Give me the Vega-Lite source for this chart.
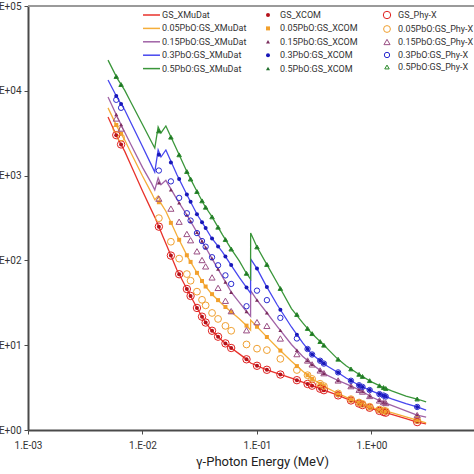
{
  "$schema": "https://vega.github.io/schema/vega-lite/v6.json",
  "width": 446,
  "height": 424,
  "autosize": {"type": "none"},
  "padding": {"left": 28, "top": 6, "right": 0, "bottom": 44},
  "background": "white",
  "config": {
    "view": {"stroke": null},
    "font": "Roboto",
    "axis": {
      "grid": false,
      "domainColor": "#4a4a4a",
      "domainWidth": 2,
      "tickColor": "#4a4a4a",
      "tickSize": 4,
      "tickWidth": 1,
      "labelFont": "Roboto",
      "labelFontSize": 10,
      "labelColor": "#333333",
      "titleFont": "Roboto",
      "titleColor": "#222222",
      "titleFontWeight": "normal"
    },
    "legend": {"labelFont": "Roboto", "labelFontSize": 9, "labelColor": "#333333", "padding": 0}
  },
  "datasets": {
    "xmudat": [
      {"E":0.005,"mu":4910,"s":"GS_XMuDat"},{"E":0.006,"mu":2850,"s":"GS_XMuDat"},{"E":0.007,"mu":1930,"s":"GS_XMuDat"},{"E":0.008,"mu":1290,"s":"GS_XMuDat"},{"E":0.01,"mu":660,"s":"GS_XMuDat"},{"E":0.012,"mu":389,"s":"GS_XMuDat"},{"E":0.013,"mu":310,"s":"GS_XMuDat"},{"E":0.0152,"mu":186,"s":"GS_XMuDat"},{"E":0.0159,"mu":161,"s":"GS_XMuDat"},{"E":0.02,"mu":77,"s":"GS_XMuDat"},{"E":0.025,"mu":43.2,"s":"GS_XMuDat"},{"E":0.03,"mu":27.3,"s":"GS_XMuDat"},{"E":0.035,"mu":19.1,"s":"GS_XMuDat"},{"E":0.04,"mu":15.0,"s":"GS_XMuDat"},{"E":0.05,"mu":11.2,"s":"GS_XMuDat"},{"E":0.06,"mu":9.2,"s":"GS_XMuDat"},{"E":0.07,"mu":7.9,"s":"GS_XMuDat"},{"E":0.08,"mu":6.9,"s":"GS_XMuDat"},{"E":0.088,"mu":6.17,"s":"GS_XMuDat"},{"E":0.1,"mu":5.72,"s":"GS_XMuDat"},{"E":0.12,"mu":5.15,"s":"GS_XMuDat"},{"E":0.15,"mu":4.65,"s":"GS_XMuDat"},{"E":0.2,"mu":4.08,"s":"GS_XMuDat"},{"E":0.25,"mu":3.67,"s":"GS_XMuDat"},{"E":0.3,"mu":3.35,"s":"GS_XMuDat"},{"E":0.4,"mu":2.89,"s":"GS_XMuDat"},{"E":0.5,"mu":2.59,"s":"GS_XMuDat"},{"E":0.6,"mu":2.35,"s":"GS_XMuDat"},{"E":0.8,"mu":2.02,"s":"GS_XMuDat"},{"E":1,"mu":1.79,"s":"GS_XMuDat"},{"E":1.25,"mu":1.64,"s":"GS_XMuDat"},{"E":1.5,"mu":1.53,"s":"GS_XMuDat"},{"E":2,"mu":1.36,"s":"GS_XMuDat"},{"E":2.5,"mu":1.24,"s":"GS_XMuDat"},{"E":3,"mu":1.18,"s":"GS_XMuDat"},

      {"E":0.005,"mu":6285,"s":"0.05PbO:GS_XMuDat"},{"E":0.006,"mu":3760,"s":"0.05PbO:GS_XMuDat"},{"E":0.007,"mu":2625,"s":"0.05PbO:GS_XMuDat"},{"E":0.008,"mu":1806,"s":"0.05PbO:GS_XMuDat"},{"E":0.01,"mu":990,"s":"0.05PbO:GS_XMuDat"},{"E":0.012,"mu":622,"s":"0.05PbO:GS_XMuDat"},{"E":0.0128,"mu":520,"s":"0.05PbO:GS_XMuDat"},{"E":0.0137,"mu":575,"s":"0.05PbO:GS_XMuDat"},{"E":0.0145,"mu":470,"s":"0.05PbO:GS_XMuDat"},{"E":0.016,"mu":380,"s":"0.05PbO:GS_XMuDat"},{"E":0.02,"mu":197,"s":"0.05PbO:GS_XMuDat"},{"E":0.025,"mu":108,"s":"0.05PbO:GS_XMuDat"},{"E":0.03,"mu":71,"s":"0.05PbO:GS_XMuDat"},{"E":0.035,"mu":50.6,"s":"0.05PbO:GS_XMuDat"},{"E":0.04,"mu":40.5,"s":"0.05PbO:GS_XMuDat"},{"E":0.05,"mu":30.2,"s":"0.05PbO:GS_XMuDat"},{"E":0.06,"mu":24.4,"s":"0.05PbO:GS_XMuDat"},{"E":0.07,"mu":20.5,"s":"0.05PbO:GS_XMuDat"},{"E":0.08,"mu":17.3,"s":"0.05PbO:GS_XMuDat"},{"E":0.0879,"mu":15.1,"s":"0.05PbO:GS_XMuDat"},{"E":0.088,"mu":19.8,"s":"0.05PbO:GS_XMuDat"},{"E":0.1,"mu":16.5,"s":"0.05PbO:GS_XMuDat"},{"E":0.12,"mu":12.8,"s":"0.05PbO:GS_XMuDat"},{"E":0.15,"mu":9.4,"s":"0.05PbO:GS_XMuDat"},{"E":0.2,"mu":6.46,"s":"0.05PbO:GS_XMuDat"},{"E":0.25,"mu":4.95,"s":"0.05PbO:GS_XMuDat"},{"E":0.3,"mu":4.05,"s":"0.05PbO:GS_XMuDat"},{"E":0.4,"mu":3.18,"s":"0.05PbO:GS_XMuDat"},{"E":0.5,"mu":2.73,"s":"0.05PbO:GS_XMuDat"},{"E":0.6,"mu":2.44,"s":"0.05PbO:GS_XMuDat"},{"E":0.8,"mu":2.08,"s":"0.05PbO:GS_XMuDat"},{"E":1,"mu":1.84,"s":"0.05PbO:GS_XMuDat"},{"E":1.25,"mu":1.71,"s":"0.05PbO:GS_XMuDat"},{"E":1.5,"mu":1.6,"s":"0.05PbO:GS_XMuDat"},{"E":2,"mu":1.43,"s":"0.05PbO:GS_XMuDat"},{"E":2.5,"mu":1.31,"s":"0.05PbO:GS_XMuDat"},{"E":3,"mu":1.21,"s":"0.05PbO:GS_XMuDat"},

      {"E":0.005,"mu":8450,"s":"0.15PbO:GS_XMuDat"},{"E":0.006,"mu":4990,"s":"0.15PbO:GS_XMuDat"},{"E":0.007,"mu":3240,"s":"0.15PbO:GS_XMuDat"},{"E":0.008,"mu":2260,"s":"0.15PbO:GS_XMuDat"},{"E":0.01,"mu":1250,"s":"0.15PbO:GS_XMuDat"},{"E":0.012,"mu":810,"s":"0.15PbO:GS_XMuDat"},{"E":0.0128,"mu":676,"s":"0.15PbO:GS_XMuDat"},{"E":0.0137,"mu":937,"s":"0.15PbO:GS_XMuDat"},{"E":0.0145,"mu":780,"s":"0.15PbO:GS_XMuDat"},{"E":0.016,"mu":880,"s":"0.15PbO:GS_XMuDat"},{"E":0.02,"mu":525,"s":"0.15PbO:GS_XMuDat"},{"E":0.025,"mu":325,"s":"0.15PbO:GS_XMuDat"},{"E":0.03,"mu":213,"s":"0.15PbO:GS_XMuDat"},{"E":0.035,"mu":148,"s":"0.15PbO:GS_XMuDat"},{"E":0.04,"mu":108,"s":"0.15PbO:GS_XMuDat"},{"E":0.05,"mu":64,"s":"0.15PbO:GS_XMuDat"},{"E":0.06,"mu":41.6,"s":"0.15PbO:GS_XMuDat"},{"E":0.07,"mu":32,"s":"0.15PbO:GS_XMuDat"},{"E":0.08,"mu":25.5,"s":"0.15PbO:GS_XMuDat"},{"E":0.0879,"mu":22,"s":"0.15PbO:GS_XMuDat"},{"E":0.088,"mu":44,"s":"0.15PbO:GS_XMuDat"},{"E":0.1,"mu":34,"s":"0.15PbO:GS_XMuDat"},{"E":0.12,"mu":24.8,"s":"0.15PbO:GS_XMuDat"},{"E":0.15,"mu":16.7,"s":"0.15PbO:GS_XMuDat"},{"E":0.2,"mu":10.2,"s":"0.15PbO:GS_XMuDat"},{"E":0.25,"mu":7.4,"s":"0.15PbO:GS_XMuDat"},{"E":0.3,"mu":6.0,"s":"0.15PbO:GS_XMuDat"},{"E":0.4,"mu":4.5,"s":"0.15PbO:GS_XMuDat"},{"E":0.5,"mu":3.89,"s":"0.15PbO:GS_XMuDat"},{"E":0.6,"mu":3.49,"s":"0.15PbO:GS_XMuDat"},{"E":0.8,"mu":2.94,"s":"0.15PbO:GS_XMuDat"},{"E":1,"mu":2.45,"s":"0.15PbO:GS_XMuDat"},{"E":1.25,"mu":2.15,"s":"0.15PbO:GS_XMuDat"},{"E":1.5,"mu":1.95,"s":"0.15PbO:GS_XMuDat"},{"E":2,"mu":1.68,"s":"0.15PbO:GS_XMuDat"},{"E":2.5,"mu":1.5,"s":"0.15PbO:GS_XMuDat"},{"E":3,"mu":1.42,"s":"0.15PbO:GS_XMuDat"},

      {"E":0.005,"mu":13400,"s":"0.3PbO:GS_XMuDat"},{"E":0.006,"mu":8330,"s":"0.3PbO:GS_XMuDat"},{"E":0.007,"mu":5940,"s":"0.3PbO:GS_XMuDat"},{"E":0.008,"mu":4090,"s":"0.3PbO:GS_XMuDat"},{"E":0.01,"mu":2200,"s":"0.3PbO:GS_XMuDat"},{"E":0.012,"mu":1320,"s":"0.3PbO:GS_XMuDat"},{"E":0.0128,"mu":1103,"s":"0.3PbO:GS_XMuDat"},{"E":0.0137,"mu":2004,"s":"0.3PbO:GS_XMuDat"},{"E":0.0145,"mu":1657,"s":"0.3PbO:GS_XMuDat"},{"E":0.016,"mu":2004,"s":"0.3PbO:GS_XMuDat"},{"E":0.02,"mu":1025,"s":"0.3PbO:GS_XMuDat"},{"E":0.025,"mu":560,"s":"0.3PbO:GS_XMuDat"},{"E":0.03,"mu":348,"s":"0.3PbO:GS_XMuDat"},{"E":0.035,"mu":250,"s":"0.3PbO:GS_XMuDat"},{"E":0.04,"mu":185,"s":"0.3PbO:GS_XMuDat"},{"E":0.05,"mu":125,"s":"0.3PbO:GS_XMuDat"},{"E":0.06,"mu":86,"s":"0.3PbO:GS_XMuDat"},{"E":0.07,"mu":63,"s":"0.3PbO:GS_XMuDat"},{"E":0.08,"mu":49,"s":"0.3PbO:GS_XMuDat"},{"E":0.0879,"mu":41,"s":"0.3PbO:GS_XMuDat"},{"E":0.088,"mu":104,"s":"0.3PbO:GS_XMuDat"},{"E":0.1,"mu":80,"s":"0.3PbO:GS_XMuDat"},{"E":0.12,"mu":50.5,"s":"0.3PbO:GS_XMuDat"},{"E":0.15,"mu":30,"s":"0.3PbO:GS_XMuDat"},{"E":0.2,"mu":16.4,"s":"0.3PbO:GS_XMuDat"},{"E":0.25,"mu":10.7,"s":"0.3PbO:GS_XMuDat"},{"E":0.3,"mu":7.85,"s":"0.3PbO:GS_XMuDat"},{"E":0.4,"mu":5.8,"s":"0.3PbO:GS_XMuDat"},{"E":0.5,"mu":4.83,"s":"0.3PbO:GS_XMuDat"},{"E":0.6,"mu":4.1,"s":"0.3PbO:GS_XMuDat"},{"E":0.8,"mu":3.3,"s":"0.3PbO:GS_XMuDat"},{"E":1,"mu":2.9,"s":"0.3PbO:GS_XMuDat"},{"E":1.25,"mu":2.56,"s":"0.3PbO:GS_XMuDat"},{"E":1.5,"mu":2.33,"s":"0.3PbO:GS_XMuDat"},{"E":2,"mu":2.05,"s":"0.3PbO:GS_XMuDat"},{"E":2.5,"mu":1.87,"s":"0.3PbO:GS_XMuDat"},{"E":3,"mu":1.72,"s":"0.3PbO:GS_XMuDat"},

      {"E":0.005,"mu":23000,"s":"0.5PbO:GS_XMuDat"},{"E":0.006,"mu":14100,"s":"0.5PbO:GS_XMuDat"},{"E":0.007,"mu":10100,"s":"0.5PbO:GS_XMuDat"},{"E":0.008,"mu":7140,"s":"0.5PbO:GS_XMuDat"},{"E":0.01,"mu":4000,"s":"0.5PbO:GS_XMuDat"},{"E":0.012,"mu":2490,"s":"0.5PbO:GS_XMuDat"},{"E":0.0128,"mu":2115,"s":"0.5PbO:GS_XMuDat"},{"E":0.0137,"mu":3740,"s":"0.5PbO:GS_XMuDat"},{"E":0.0145,"mu":3180,"s":"0.5PbO:GS_XMuDat"},{"E":0.016,"mu":3850,"s":"0.5PbO:GS_XMuDat"},{"E":0.02,"mu":2000,"s":"0.5PbO:GS_XMuDat"},{"E":0.025,"mu":1040,"s":"0.5PbO:GS_XMuDat"},{"E":0.03,"mu":645,"s":"0.5PbO:GS_XMuDat"},{"E":0.035,"mu":438,"s":"0.5PbO:GS_XMuDat"},{"E":0.04,"mu":335,"s":"0.5PbO:GS_XMuDat"},{"E":0.05,"mu":200,"s":"0.5PbO:GS_XMuDat"},{"E":0.06,"mu":134,"s":"0.5PbO:GS_XMuDat"},{"E":0.07,"mu":98.5,"s":"0.5PbO:GS_XMuDat"},{"E":0.08,"mu":72,"s":"0.5PbO:GS_XMuDat"},{"E":0.0879,"mu":60,"s":"0.5PbO:GS_XMuDat"},{"E":0.088,"mu":210,"s":"0.5PbO:GS_XMuDat"},{"E":0.1,"mu":144,"s":"0.5PbO:GS_XMuDat"},{"E":0.12,"mu":93,"s":"0.5PbO:GS_XMuDat"},{"E":0.15,"mu":54.5,"s":"0.5PbO:GS_XMuDat"},{"E":0.2,"mu":27,"s":"0.5PbO:GS_XMuDat"},{"E":0.25,"mu":18.5,"s":"0.5PbO:GS_XMuDat"},{"E":0.3,"mu":13.8,"s":"0.5PbO:GS_XMuDat"},{"E":0.4,"mu":9.5,"s":"0.5PbO:GS_XMuDat"},{"E":0.5,"mu":7.0,"s":"0.5PbO:GS_XMuDat"},{"E":0.6,"mu":5.73,"s":"0.5PbO:GS_XMuDat"},{"E":0.8,"mu":4.42,"s":"0.5PbO:GS_XMuDat"},{"E":1,"mu":3.7,"s":"0.5PbO:GS_XMuDat"},{"E":1.25,"mu":3.2,"s":"0.5PbO:GS_XMuDat"},{"E":1.5,"mu":2.9,"s":"0.5PbO:GS_XMuDat"},{"E":2,"mu":2.51,"s":"0.5PbO:GS_XMuDat"},{"E":2.5,"mu":2.32,"s":"0.5PbO:GS_XMuDat"},{"E":3,"mu":2.14,"s":"0.5PbO:GS_XMuDat"}
    ],
    "xcom": [
      {"E":0.0059,"mu":3000,"s":"GS_XCOM"},{"E":0.0065,"mu":2330,"s":"GS_XCOM"},{"E":0.0139,"mu":250,"s":"GS_XCOM"},{"E":0.0177,"mu":114,"s":"GS_XCOM"},{"E":0.0209,"mu":68.7,"s":"GS_XCOM"},{"E":0.0244,"mu":46.0,"s":"GS_XCOM"},{"E":0.0263,"mu":38.1,"s":"GS_XCOM"},{"E":0.0299,"mu":27.5,"s":"GS_XCOM"},{"E":0.0331,"mu":21.7,"s":"GS_XCOM"},{"E":0.0356,"mu":18.5,"s":"GS_XCOM"},{"E":0.0405,"mu":14.8,"s":"GS_XCOM"},{"E":0.0457,"mu":12.6,"s":"GS_XCOM"},{"E":0.053,"mu":10.5,"s":"GS_XCOM"},{"E":0.0595,"mu":9.27,"s":"GS_XCOM"},{"E":0.081,"mu":6.82,"s":"GS_XCOM"},{"E":0.1,"mu":5.72,"s":"GS_XCOM"},{"E":0.122,"mu":5.13,"s":"GS_XCOM"},{"E":0.16,"mu":4.51,"s":"GS_XCOM"},{"E":0.2231,"mu":3.87,"s":"GS_XCOM"},{"E":0.2764,"mu":3.49,"s":"GS_XCOM"},{"E":0.3029,"mu":3.33,"s":"GS_XCOM"},{"E":0.356,"mu":3.07,"s":"GS_XCOM"},{"E":0.3838,"mu":2.95,"s":"GS_XCOM"},{"E":0.511,"mu":2.56,"s":"GS_XCOM"},{"E":0.6617,"mu":2.23,"s":"GS_XCOM"},{"E":0.7789,"mu":2.05,"s":"GS_XCOM"},{"E":0.8344,"mu":1.97,"s":"GS_XCOM"},{"E":0.964,"mu":1.83,"s":"GS_XCOM"},{"E":1.1732,"mu":1.68,"s":"GS_XCOM"},{"E":1.2745,"mu":1.63,"s":"GS_XCOM"},{"E":1.3325,"mu":1.6,"s":"GS_XCOM"},{"E":2.506,"mu":1.24,"s":"GS_XCOM"},

      {"E":0.0059,"mu":3950,"s":"0.05PbO:GS_XCOM"},{"E":0.0065,"mu":3120,"s":"0.05PbO:GS_XCOM"},{"E":0.0139,"mu":485,"s":"0.05PbO:GS_XCOM"},{"E":0.0177,"mu":277,"s":"0.05PbO:GS_XCOM"},{"E":0.0209,"mu":175,"s":"0.05PbO:GS_XCOM"},{"E":0.0244,"mu":115,"s":"0.05PbO:GS_XCOM"},{"E":0.0263,"mu":96,"s":"0.05PbO:GS_XCOM"},{"E":0.0299,"mu":71.3,"s":"0.05PbO:GS_XCOM"},{"E":0.0331,"mu":57.2,"s":"0.05PbO:GS_XCOM"},{"E":0.0356,"mu":49.2,"s":"0.05PbO:GS_XCOM"},{"E":0.0405,"mu":40.0,"s":"0.05PbO:GS_XCOM"},{"E":0.0457,"mu":34.0,"s":"0.05PbO:GS_XCOM"},{"E":0.053,"mu":28.2,"s":"0.05PbO:GS_XCOM"},{"E":0.0595,"mu":24.6,"s":"0.05PbO:GS_XCOM"},{"E":0.081,"mu":17.0,"s":"0.05PbO:GS_XCOM"},{"E":0.1,"mu":16.5,"s":"0.05PbO:GS_XCOM"},{"E":0.122,"mu":12.5,"s":"0.05PbO:GS_XCOM"},{"E":0.16,"mu":8.64,"s":"0.05PbO:GS_XCOM"},{"E":0.2231,"mu":5.67,"s":"0.05PbO:GS_XCOM"},{"E":0.2764,"mu":4.43,"s":"0.05PbO:GS_XCOM"},{"E":0.3029,"mu":4.0,"s":"0.05PbO:GS_XCOM"},{"E":0.356,"mu":3.51,"s":"0.05PbO:GS_XCOM"},{"E":0.3838,"mu":3.29,"s":"0.05PbO:GS_XCOM"},{"E":0.511,"mu":2.7,"s":"0.05PbO:GS_XCOM"},{"E":0.6617,"mu":2.31,"s":"0.05PbO:GS_XCOM"},{"E":0.7789,"mu":2.11,"s":"0.05PbO:GS_XCOM"},{"E":0.8344,"mu":2.03,"s":"0.05PbO:GS_XCOM"},{"E":0.964,"mu":1.88,"s":"0.05PbO:GS_XCOM"},{"E":1.1732,"mu":1.74,"s":"0.05PbO:GS_XCOM"},{"E":1.2745,"mu":1.7,"s":"0.05PbO:GS_XCOM"},{"E":1.3325,"mu":1.67,"s":"0.05PbO:GS_XCOM"},{"E":2.506,"mu":1.31,"s":"0.05PbO:GS_XCOM"},

      {"E":0.0059,"mu":5240,"s":"0.15PbO:GS_XCOM"},{"E":0.0065,"mu":3990,"s":"0.15PbO:GS_XCOM"},{"E":0.0139,"mu":823,"s":"0.15PbO:GS_XCOM"},{"E":0.0177,"mu":680,"s":"0.15PbO:GS_XCOM"},{"E":0.0209,"mu":477,"s":"0.15PbO:GS_XCOM"},{"E":0.0244,"mu":342,"s":"0.15PbO:GS_XCOM"},{"E":0.0263,"mu":289,"s":"0.15PbO:GS_XCOM"},{"E":0.0299,"mu":214,"s":"0.15PbO:GS_XCOM"},{"E":0.0331,"mu":169,"s":"0.15PbO:GS_XCOM"},{"E":0.0356,"mu":142,"s":"0.15PbO:GS_XCOM"},{"E":0.0405,"mu":105,"s":"0.15PbO:GS_XCOM"},{"E":0.0457,"mu":79,"s":"0.15PbO:GS_XCOM"},{"E":0.053,"mu":55.7,"s":"0.15PbO:GS_XCOM"},{"E":0.0595,"mu":42,"s":"0.15PbO:GS_XCOM"},{"E":0.081,"mu":25.0,"s":"0.15PbO:GS_XCOM"},{"E":0.1,"mu":34,"s":"0.15PbO:GS_XCOM"},{"E":0.122,"mu":24.1,"s":"0.15PbO:GS_XCOM"},{"E":0.16,"mu":14.96,"s":"0.15PbO:GS_XCOM"},{"E":0.2231,"mu":8.72,"s":"0.15PbO:GS_XCOM"},{"E":0.2764,"mu":6.6,"s":"0.15PbO:GS_XCOM"},{"E":0.3029,"mu":5.94,"s":"0.15PbO:GS_XCOM"},{"E":0.356,"mu":5.04,"s":"0.15PbO:GS_XCOM"},{"E":0.3838,"mu":4.68,"s":"0.15PbO:GS_XCOM"},{"E":0.511,"mu":3.84,"s":"0.15PbO:GS_XCOM"},{"E":0.6617,"mu":3.29,"s":"0.15PbO:GS_XCOM"},{"E":0.7789,"mu":2.98,"s":"0.15PbO:GS_XCOM"},{"E":0.8344,"mu":2.84,"s":"0.15PbO:GS_XCOM"},{"E":0.964,"mu":2.52,"s":"0.15PbO:GS_XCOM"},{"E":1.1732,"mu":2.23,"s":"0.15PbO:GS_XCOM"},{"E":1.2745,"mu":2.13,"s":"0.15PbO:GS_XCOM"},{"E":1.3325,"mu":2.08,"s":"0.15PbO:GS_XCOM"},{"E":2.506,"mu":1.5,"s":"0.15PbO:GS_XCOM"},

      {"E":0.0059,"mu":8700,"s":"0.3PbO:GS_XCOM"},{"E":0.0065,"mu":7000,"s":"0.3PbO:GS_XCOM"},{"E":0.0139,"mu":1765,"s":"0.3PbO:GS_XCOM"},{"E":0.0177,"mu":1425,"s":"0.3PbO:GS_XCOM"},{"E":0.0209,"mu":910,"s":"0.3PbO:GS_XCOM"},{"E":0.0244,"mu":600,"s":"0.3PbO:GS_XCOM"},{"E":0.0263,"mu":491,"s":"0.3PbO:GS_XCOM"},{"E":0.0299,"mu":350,"s":"0.3PbO:GS_XCOM"},{"E":0.0331,"mu":282,"s":"0.3PbO:GS_XCOM"},{"E":0.0356,"mu":241,"s":"0.3PbO:GS_XCOM"},{"E":0.0405,"mu":181,"s":"0.3PbO:GS_XCOM"},{"E":0.0457,"mu":146,"s":"0.3PbO:GS_XCOM"},{"E":0.053,"mu":111,"s":"0.3PbO:GS_XCOM"},{"E":0.0595,"mu":88,"s":"0.3PbO:GS_XCOM"},{"E":0.081,"mu":48,"s":"0.3PbO:GS_XCOM"},{"E":0.1,"mu":80,"s":"0.3PbO:GS_XCOM"},{"E":0.122,"mu":48.6,"s":"0.3PbO:GS_XCOM"},{"E":0.16,"mu":26.2,"s":"0.3PbO:GS_XCOM"},{"E":0.2231,"mu":13.3,"s":"0.3PbO:GS_XCOM"},{"E":0.2764,"mu":9.02,"s":"0.3PbO:GS_XCOM"},{"E":0.3029,"mu":7.77,"s":"0.3PbO:GS_XCOM"},{"E":0.356,"mu":6.56,"s":"0.3PbO:GS_XCOM"},{"E":0.3838,"mu":6.07,"s":"0.3PbO:GS_XCOM"},{"E":0.511,"mu":4.78,"s":"0.3PbO:GS_XCOM"},{"E":0.6617,"mu":3.81,"s":"0.3PbO:GS_XCOM"},{"E":0.7789,"mu":3.37,"s":"0.3PbO:GS_XCOM"},{"E":0.8344,"mu":3.22,"s":"0.3PbO:GS_XCOM"},{"E":0.964,"mu":2.96,"s":"0.3PbO:GS_XCOM"},{"E":1.1732,"mu":2.65,"s":"0.3PbO:GS_XCOM"},{"E":1.2745,"mu":2.55,"s":"0.3PbO:GS_XCOM"},{"E":1.3325,"mu":2.48,"s":"0.3PbO:GS_XCOM"},{"E":2.506,"mu":1.87,"s":"0.3PbO:GS_XCOM"},

      {"E":0.0059,"mu":14750,"s":"0.5PbO:GS_XCOM"},{"E":0.0065,"mu":11850,"s":"0.5PbO:GS_XCOM"},{"E":0.0139,"mu":3360,"s":"0.5PbO:GS_XCOM"},{"E":0.0177,"mu":2840,"s":"0.5PbO:GS_XCOM"},{"E":0.0209,"mu":1758,"s":"0.5PbO:GS_XCOM"},{"E":0.0244,"mu":1116,"s":"0.5PbO:GS_XCOM"},{"E":0.0263,"mu":910,"s":"0.5PbO:GS_XCOM"},{"E":0.0299,"mu":648,"s":"0.5PbO:GS_XCOM"},{"E":0.0331,"mu":504,"s":"0.5PbO:GS_XCOM"},{"E":0.0356,"mu":423,"s":"0.5PbO:GS_XCOM"},{"E":0.0405,"mu":326,"s":"0.5PbO:GS_XCOM"},{"E":0.0457,"mu":246,"s":"0.5PbO:GS_XCOM"},{"E":0.053,"mu":176,"s":"0.5PbO:GS_XCOM"},{"E":0.0595,"mu":136,"s":"0.5PbO:GS_XCOM"},{"E":0.081,"mu":70.3,"s":"0.5PbO:GS_XCOM"},{"E":0.1,"mu":144,"s":"0.5PbO:GS_XCOM"},{"E":0.122,"mu":89.4,"s":"0.5PbO:GS_XCOM"},{"E":0.16,"mu":46.6,"s":"0.5PbO:GS_XCOM"},{"E":0.2231,"mu":23.0,"s":"0.5PbO:GS_XCOM"},{"E":0.2764,"mu":15.75,"s":"0.5PbO:GS_XCOM"},{"E":0.3029,"mu":13.7,"s":"0.5PbO:GS_XCOM"},{"E":0.356,"mu":11.04,"s":"0.5PbO:GS_XCOM"},{"E":0.3838,"mu":10.0,"s":"0.5PbO:GS_XCOM"},{"E":0.511,"mu":6.83,"s":"0.5PbO:GS_XCOM"},{"E":0.6617,"mu":5.25,"s":"0.5PbO:GS_XCOM"},{"E":0.7789,"mu":4.53,"s":"0.5PbO:GS_XCOM"},{"E":0.8344,"mu":4.28,"s":"0.5PbO:GS_XCOM"},{"E":0.964,"mu":3.82,"s":"0.5PbO:GS_XCOM"},{"E":1.1732,"mu":3.33,"s":"0.5PbO:GS_XCOM"},{"E":1.2745,"mu":3.17,"s":"0.5PbO:GS_XCOM"},{"E":1.3325,"mu":3.09,"s":"0.5PbO:GS_XCOM"},{"E":2.506,"mu":2.32,"s":"0.5PbO:GS_XCOM"}
    ],
    "phyx": [
      {"E":0.0059,"mu":3000,"s":"GS_Phy-X"},{"E":0.0065,"mu":2330,"s":"GS_Phy-X"},{"E":0.0139,"mu":250,"s":"GS_Phy-X"},{"E":0.0177,"mu":114,"s":"GS_Phy-X"},{"E":0.0209,"mu":68.7,"s":"GS_Phy-X"},{"E":0.0244,"mu":46.0,"s":"GS_Phy-X"},{"E":0.0263,"mu":38.1,"s":"GS_Phy-X"},{"E":0.0299,"mu":27.5,"s":"GS_Phy-X"},{"E":0.0331,"mu":21.7,"s":"GS_Phy-X"},{"E":0.0356,"mu":18.5,"s":"GS_Phy-X"},{"E":0.0405,"mu":14.8,"s":"GS_Phy-X"},{"E":0.0457,"mu":12.6,"s":"GS_Phy-X"},{"E":0.053,"mu":10.5,"s":"GS_Phy-X"},{"E":0.0595,"mu":9.27,"s":"GS_Phy-X"},{"E":0.081,"mu":6.82,"s":"GS_Phy-X"},{"E":0.1,"mu":5.72,"s":"GS_Phy-X"},{"E":0.122,"mu":5.13,"s":"GS_Phy-X"},{"E":0.16,"mu":4.51,"s":"GS_Phy-X"},{"E":0.2231,"mu":3.87,"s":"GS_Phy-X"},{"E":0.2764,"mu":3.49,"s":"GS_Phy-X"},{"E":0.3029,"mu":3.33,"s":"GS_Phy-X"},{"E":0.356,"mu":3.07,"s":"GS_Phy-X"},{"E":0.3838,"mu":2.95,"s":"GS_Phy-X"},{"E":0.511,"mu":2.56,"s":"GS_Phy-X"},{"E":0.6617,"mu":2.23,"s":"GS_Phy-X"},{"E":0.7789,"mu":2.05,"s":"GS_Phy-X"},{"E":0.8344,"mu":1.97,"s":"GS_Phy-X"},{"E":0.964,"mu":1.83,"s":"GS_Phy-X"},{"E":1.1732,"mu":1.68,"s":"GS_Phy-X"},{"E":1.2745,"mu":1.63,"s":"GS_Phy-X"},{"E":1.3325,"mu":1.6,"s":"GS_Phy-X"},{"E":2.506,"mu":1.24,"s":"GS_Phy-X"},

      {"E":0.0059,"mu":3555,"s":"0.05PbO:GS_Phy-X"},{"E":0.0065,"mu":2808,"s":"0.05PbO:GS_Phy-X"},{"E":0.0139,"mu":315,"s":"0.05PbO:GS_Phy-X"},{"E":0.0177,"mu":166,"s":"0.05PbO:GS_Phy-X"},{"E":0.0209,"mu":105,"s":"0.05PbO:GS_Phy-X"},{"E":0.0244,"mu":69,"s":"0.05PbO:GS_Phy-X"},{"E":0.0263,"mu":57.6,"s":"0.05PbO:GS_Phy-X"},{"E":0.0299,"mu":42.8,"s":"0.05PbO:GS_Phy-X"},{"E":0.0331,"mu":34.3,"s":"0.05PbO:GS_Phy-X"},{"E":0.0356,"mu":29.5,"s":"0.05PbO:GS_Phy-X"},{"E":0.0405,"mu":24,"s":"0.05PbO:GS_Phy-X"},{"E":0.0457,"mu":20.4,"s":"0.05PbO:GS_Phy-X"},{"E":0.053,"mu":16.9,"s":"0.05PbO:GS_Phy-X"},{"E":0.0595,"mu":14.8,"s":"0.05PbO:GS_Phy-X"},{"E":0.081,"mu":10.2,"s":"0.05PbO:GS_Phy-X"},{"E":0.1,"mu":9.1,"s":"0.05PbO:GS_Phy-X"},{"E":0.122,"mu":8.75,"s":"0.05PbO:GS_Phy-X"},{"E":0.16,"mu":6.9,"s":"0.05PbO:GS_Phy-X"},{"E":0.2231,"mu":5.1,"s":"0.05PbO:GS_Phy-X"},{"E":0.2764,"mu":4.43,"s":"0.05PbO:GS_Phy-X"},{"E":0.3029,"mu":4.0,"s":"0.05PbO:GS_Phy-X"},{"E":0.356,"mu":3.51,"s":"0.05PbO:GS_Phy-X"},{"E":0.3838,"mu":3.29,"s":"0.05PbO:GS_Phy-X"},{"E":0.511,"mu":2.7,"s":"0.05PbO:GS_Phy-X"},{"E":0.6617,"mu":2.31,"s":"0.05PbO:GS_Phy-X"},{"E":0.7789,"mu":2.11,"s":"0.05PbO:GS_Phy-X"},{"E":0.8344,"mu":2.03,"s":"0.05PbO:GS_Phy-X"},{"E":0.964,"mu":1.88,"s":"0.05PbO:GS_Phy-X"},{"E":1.1732,"mu":1.74,"s":"0.05PbO:GS_Phy-X"},{"E":1.2745,"mu":1.7,"s":"0.05PbO:GS_Phy-X"},{"E":1.3325,"mu":1.67,"s":"0.05PbO:GS_Phy-X"},{"E":2.506,"mu":1.31,"s":"0.05PbO:GS_Phy-X"},

      {"E":0.0059,"mu":4716,"s":"0.15PbO:GS_Phy-X"},{"E":0.0065,"mu":3591,"s":"0.15PbO:GS_Phy-X"},{"E":0.0139,"mu":535,"s":"0.15PbO:GS_Phy-X"},{"E":0.0177,"mu":408,"s":"0.15PbO:GS_Phy-X"},{"E":0.0209,"mu":286,"s":"0.15PbO:GS_Phy-X"},{"E":0.0244,"mu":205,"s":"0.15PbO:GS_Phy-X"},{"E":0.0263,"mu":173,"s":"0.15PbO:GS_Phy-X"},{"E":0.0299,"mu":128,"s":"0.15PbO:GS_Phy-X"},{"E":0.0331,"mu":101,"s":"0.15PbO:GS_Phy-X"},{"E":0.0356,"mu":85,"s":"0.15PbO:GS_Phy-X"},{"E":0.0405,"mu":63,"s":"0.15PbO:GS_Phy-X"},{"E":0.0457,"mu":47.4,"s":"0.15PbO:GS_Phy-X"},{"E":0.053,"mu":33.4,"s":"0.15PbO:GS_Phy-X"},{"E":0.0595,"mu":25.2,"s":"0.15PbO:GS_Phy-X"},{"E":0.081,"mu":15,"s":"0.15PbO:GS_Phy-X"},{"E":0.1,"mu":18.7,"s":"0.15PbO:GS_Phy-X"},{"E":0.122,"mu":16.9,"s":"0.15PbO:GS_Phy-X"},{"E":0.16,"mu":12,"s":"0.15PbO:GS_Phy-X"},{"E":0.2231,"mu":7.85,"s":"0.15PbO:GS_Phy-X"},{"E":0.2764,"mu":6.6,"s":"0.15PbO:GS_Phy-X"},{"E":0.3029,"mu":5.94,"s":"0.15PbO:GS_Phy-X"},{"E":0.356,"mu":5.04,"s":"0.15PbO:GS_Phy-X"},{"E":0.3838,"mu":4.68,"s":"0.15PbO:GS_Phy-X"},{"E":0.511,"mu":3.84,"s":"0.15PbO:GS_Phy-X"},{"E":0.6617,"mu":3.29,"s":"0.15PbO:GS_Phy-X"},{"E":0.7789,"mu":2.98,"s":"0.15PbO:GS_Phy-X"},{"E":0.8344,"mu":2.84,"s":"0.15PbO:GS_Phy-X"},{"E":0.964,"mu":2.52,"s":"0.15PbO:GS_Phy-X"},{"E":1.1732,"mu":2.23,"s":"0.15PbO:GS_Phy-X"},{"E":1.2745,"mu":2.13,"s":"0.15PbO:GS_Phy-X"},{"E":1.3325,"mu":2.08,"s":"0.15PbO:GS_Phy-X"},{"E":2.506,"mu":1.5,"s":"0.15PbO:GS_Phy-X"},

      {"E":0.0059,"mu":7830,"s":"0.3PbO:GS_Phy-X"},{"E":0.0065,"mu":6300,"s":"0.3PbO:GS_Phy-X"},{"E":0.0139,"mu":1147,"s":"0.3PbO:GS_Phy-X"},{"E":0.0177,"mu":855,"s":"0.3PbO:GS_Phy-X"},{"E":0.0209,"mu":546,"s":"0.3PbO:GS_Phy-X"},{"E":0.0244,"mu":360,"s":"0.3PbO:GS_Phy-X"},{"E":0.0263,"mu":295,"s":"0.3PbO:GS_Phy-X"},{"E":0.0299,"mu":210,"s":"0.3PbO:GS_Phy-X"},{"E":0.0331,"mu":169,"s":"0.3PbO:GS_Phy-X"},{"E":0.0356,"mu":145,"s":"0.3PbO:GS_Phy-X"},{"E":0.0405,"mu":109,"s":"0.3PbO:GS_Phy-X"},{"E":0.0457,"mu":87.6,"s":"0.3PbO:GS_Phy-X"},{"E":0.053,"mu":66.6,"s":"0.3PbO:GS_Phy-X"},{"E":0.0595,"mu":52.8,"s":"0.3PbO:GS_Phy-X"},{"E":0.081,"mu":28.8,"s":"0.3PbO:GS_Phy-X"},{"E":0.1,"mu":44,"s":"0.3PbO:GS_Phy-X"},{"E":0.122,"mu":34,"s":"0.3PbO:GS_Phy-X"},{"E":0.16,"mu":21,"s":"0.3PbO:GS_Phy-X"},{"E":0.2231,"mu":12,"s":"0.3PbO:GS_Phy-X"},{"E":0.2764,"mu":9.02,"s":"0.3PbO:GS_Phy-X"},{"E":0.3029,"mu":7.77,"s":"0.3PbO:GS_Phy-X"},{"E":0.356,"mu":6.56,"s":"0.3PbO:GS_Phy-X"},{"E":0.3838,"mu":6.07,"s":"0.3PbO:GS_Phy-X"},{"E":0.511,"mu":4.78,"s":"0.3PbO:GS_Phy-X"},{"E":0.6617,"mu":3.81,"s":"0.3PbO:GS_Phy-X"},{"E":0.7789,"mu":3.37,"s":"0.3PbO:GS_Phy-X"},{"E":0.8344,"mu":3.22,"s":"0.3PbO:GS_Phy-X"},{"E":0.964,"mu":2.96,"s":"0.3PbO:GS_Phy-X"},{"E":1.1732,"mu":2.65,"s":"0.3PbO:GS_Phy-X"},{"E":1.2745,"mu":2.55,"s":"0.3PbO:GS_Phy-X"},{"E":1.3325,"mu":2.48,"s":"0.3PbO:GS_Phy-X"},{"E":2.506,"mu":1.87,"s":"0.3PbO:GS_Phy-X"},

      {"E":0.0059,"mu":14750,"s":"0.5PbO:GS_Phy-X"},{"E":0.0065,"mu":11850,"s":"0.5PbO:GS_Phy-X"},{"E":0.0139,"mu":3360,"s":"0.5PbO:GS_Phy-X"},{"E":0.0177,"mu":2840,"s":"0.5PbO:GS_Phy-X"},{"E":0.0209,"mu":1758,"s":"0.5PbO:GS_Phy-X"},{"E":0.0244,"mu":1116,"s":"0.5PbO:GS_Phy-X"},{"E":0.0263,"mu":910,"s":"0.5PbO:GS_Phy-X"},{"E":0.0299,"mu":648,"s":"0.5PbO:GS_Phy-X"},{"E":0.0331,"mu":504,"s":"0.5PbO:GS_Phy-X"},{"E":0.0356,"mu":423,"s":"0.5PbO:GS_Phy-X"},{"E":0.0405,"mu":326,"s":"0.5PbO:GS_Phy-X"},{"E":0.0457,"mu":246,"s":"0.5PbO:GS_Phy-X"},{"E":0.053,"mu":176,"s":"0.5PbO:GS_Phy-X"},{"E":0.0595,"mu":136,"s":"0.5PbO:GS_Phy-X"},{"E":0.081,"mu":70.3,"s":"0.5PbO:GS_Phy-X"},{"E":0.1,"mu":144,"s":"0.5PbO:GS_Phy-X"},{"E":0.122,"mu":89.4,"s":"0.5PbO:GS_Phy-X"},{"E":0.16,"mu":46.6,"s":"0.5PbO:GS_Phy-X"},{"E":0.2231,"mu":23.0,"s":"0.5PbO:GS_Phy-X"},{"E":0.2764,"mu":15.75,"s":"0.5PbO:GS_Phy-X"},{"E":0.3029,"mu":13.7,"s":"0.5PbO:GS_Phy-X"},{"E":0.356,"mu":11.04,"s":"0.5PbO:GS_Phy-X"},{"E":0.3838,"mu":10.0,"s":"0.5PbO:GS_Phy-X"},{"E":0.511,"mu":6.83,"s":"0.5PbO:GS_Phy-X"},{"E":0.6617,"mu":5.25,"s":"0.5PbO:GS_Phy-X"},{"E":0.7789,"mu":4.53,"s":"0.5PbO:GS_Phy-X"},{"E":0.8344,"mu":4.28,"s":"0.5PbO:GS_Phy-X"},{"E":0.964,"mu":3.82,"s":"0.5PbO:GS_Phy-X"},{"E":1.1732,"mu":3.33,"s":"0.5PbO:GS_Phy-X"},{"E":1.2745,"mu":3.17,"s":"0.5PbO:GS_Phy-X"},{"E":1.3325,"mu":3.09,"s":"0.5PbO:GS_Phy-X"},{"E":2.506,"mu":2.32,"s":"0.5PbO:GS_Phy-X"}
    ]
  },
  "resolve": {
    "scale": {"color": "independent", "shape": "independent", "size": "independent"},
    "legend": {"color": "independent", "shape": "independent", "size": "independent"}
  },
  "layer": [
    {
      "data": {"values": [{}]},
      "mark": {"type": "rule", "color": "#9a9a9a", "strokeWidth": 2},
      "encoding": {"y": {"datum": 100000, "type": "quantitative"}}
    },
    {
      "data": {"name": "xmudat"},
      "mark": {"type": "line", "strokeWidth": 1.3},
      "encoding": {
        "x": {
          "field": "E", "type": "quantitative",
          "scale": {"type": "log", "domain": [0.001, 7.857], "nice": false},
          "axis": {
            "values": [0.001, 0.01, 0.1, 1],
            "labelExpr": "datum.value < 0.005 ? '1.E-03' : datum.value < 0.05 ? '1.E-02' : datum.value < 0.5 ? '1.E-01' : '1.E+00'",
            "labelFlush": false,
            "labelPadding": 6,
            "title": "γ-Photon Energy (MeV)",
            "titleFontSize": 13,
            "titlePadding": 5,
            "titleX": 234
          }
        },
        "y": {
          "field": "mu", "type": "quantitative",
          "scale": {"type": "log", "domain": [1, 100000], "nice": false},
          "axis": {
            "values": [1, 10, 100, 1000, 10000, 100000],
            "labelExpr": "datum.value < 5 ? '1.E+00' : datum.value < 50 ? '1.E+01' : datum.value < 500 ? '1.E+02' : datum.value < 5000 ? '1.E+03' : datum.value < 50000 ? '1.E+04' : '1.E+05'",
            "labelPadding": 3,
            "title": null
          }
        },
        "color": {
          "field": "s", "type": "nominal",
          "scale": {
            "domain": ["GS_XMuDat", "0.05PbO:GS_XMuDat", "0.15PbO:GS_XMuDat", "0.3PbO:GS_XMuDat", "0.5PbO:GS_XMuDat"],
            "range": ["#e8322b", "#f5ae3a", "#a062a6", "#4747ef", "#3a963a"]
          },
          "legend": {
            "title": null, "orient": "none", "legendX": 118.5, "legendY": 4,
            "symbolType": "M-2,0H2", "symbolSize": 72, "symbolStrokeWidth": 1.5,
            "labelOffset": 5.5, "rowPadding": 3.4
          }
        }
      }
    },
    {
      "data": {"name": "xcom"},
      "mark": {"type": "point", "filled": true, "size": 16, "opacity": 1},
      "encoding": {
        "x": {"field": "E", "type": "quantitative"},
        "y": {"field": "mu", "type": "quantitative"},
        "color": {
          "field": "s", "type": "nominal",
          "scale": {
            "domain": ["GS_XCOM", "0.05PbO:GS_XCOM", "0.15PbO:GS_XCOM", "0.3PbO:GS_XCOM", "0.5PbO:GS_XCOM"],
            "range": ["#b5121b", "#f2a02c", "#7a2c5c", "#1818b8", "#1e6e2a"]
          },
          "legend": {
            "title": null, "orient": "none", "legendX": 235.5, "legendY": 4.5,
            "symbolSize": 16, "symbolStrokeWidth": 0, "labelOffset": 7.5, "rowPadding": 3.4
          }
        },
        "shape": {
          "field": "s", "type": "nominal",
          "scale": {
            "domain": ["GS_XCOM", "0.05PbO:GS_XCOM", "0.15PbO:GS_XCOM", "0.3PbO:GS_XCOM", "0.5PbO:GS_XCOM"],
            "range": ["circle", "square", "triangle-up", "circle", "triangle-up"]
          },
          "legend": {
            "title": null, "orient": "none", "legendX": 235.5, "legendY": 4.5,
            "symbolSize": 16, "symbolStrokeWidth": 0, "labelOffset": 7.5, "rowPadding": 3.4
          }
        }
      }
    },
    {
      "data": {"name": "phyx"},
      "mark": {"type": "point", "filled": false, "strokeWidth": 1, "opacity": 1},
      "encoding": {
        "x": {"field": "E", "type": "quantitative"},
        "y": {"field": "mu", "type": "quantitative"},
        "color": {
          "field": "s", "type": "nominal",
          "scale": {
            "domain": ["GS_Phy-X", "0.05PbO:GS_Phy-X", "0.15PbO:GS_Phy-X", "0.3PbO:GS_Phy-X", "0.5PbO:GS_Phy-X"],
            "range": ["#e0201e", "#f0a030", "#9a4f84", "#2a2ad0", "#2a8a2a"]
          },
          "legend": {
            "title": null, "orient": "none", "legendX": 354.5, "legendY": 4.5,
            "symbolStrokeWidth": 1, "labelOffset": 6.5, "rowPadding": 2
          }
        },
        "shape": {
          "field": "s", "type": "nominal",
          "scale": {
            "domain": ["GS_Phy-X", "0.05PbO:GS_Phy-X", "0.15PbO:GS_Phy-X", "0.3PbO:GS_Phy-X", "0.5PbO:GS_Phy-X"],
            "range": ["circle", "circle", "triangle-up", "circle", "triangle-up"]
          },
          "legend": {
            "title": null, "orient": "none", "legendX": 354.5, "legendY": 4.5,
            "symbolStrokeWidth": 1, "labelOffset": 6.5, "rowPadding": 2
          }
        },
        "size": {
          "field": "s", "type": "nominal",
          "scale": {
            "domain": ["GS_Phy-X", "0.05PbO:GS_Phy-X", "0.15PbO:GS_Phy-X", "0.3PbO:GS_Phy-X", "0.5PbO:GS_Phy-X"],
            "range": [55, 20, 22, 22, 18]
          },
          "legend": {
            "title": null, "orient": "none", "legendX": 354.5, "legendY": 4.5,
            "symbolStrokeWidth": 1, "labelOffset": 6.5, "rowPadding": 2
          }
        }
      }
    }
  ]
}
